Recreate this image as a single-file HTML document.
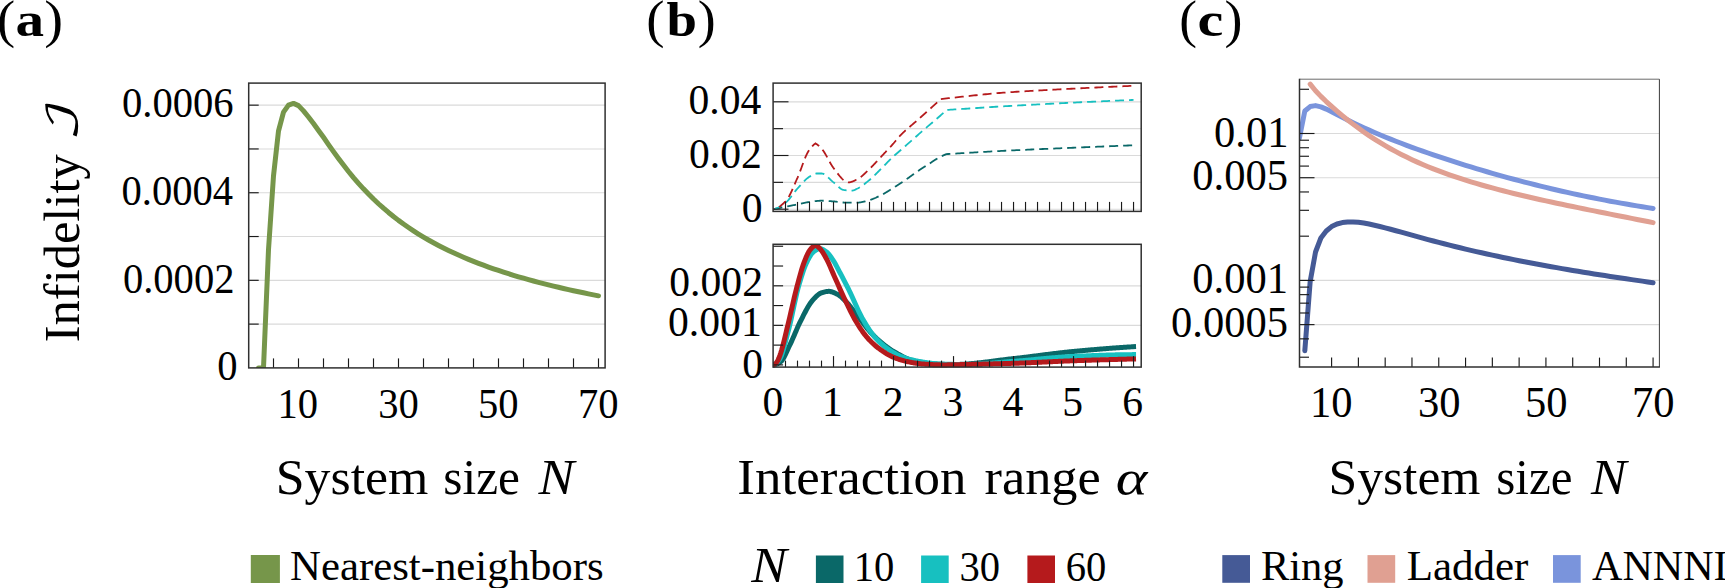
<!DOCTYPE html>
<html><head><meta charset="utf-8"><title>Infidelity figure</title>
<style>
html,body{margin:0;padding:0;background:#fff;}
body{width:1725px;height:588px;overflow:hidden;}
svg{display:block;}
text{font-family:"Liberation Serif","DejaVu Serif",serif;fill:#000;}
</style></head><body>
<svg width="1725" height="588" viewBox="0 0 1725 588">
<defs>
<clipPath id="ca"><rect x="248.7" y="83.1" width="356.40000000000003" height="284.79999999999995"/></clipPath>
<clipPath id="cb"><rect x="773.1" y="244.3" width="368.1" height="123.80000000000001"/></clipPath>
<clipPath id="cc"><rect x="1299.5" y="79.2" width="359.9000000000001" height="287.90000000000003"/></clipPath>
</defs>
<rect width="1725" height="588" fill="#fff"/>
<line x1="248.70" x2="605.10" y1="324.11" y2="324.11" stroke="#dadada" stroke-width="1.15"/>
<line x1="248.70" x2="605.10" y1="280.32" y2="280.32" stroke="#dadada" stroke-width="1.15"/>
<line x1="248.70" x2="605.10" y1="236.53" y2="236.53" stroke="#dadada" stroke-width="1.15"/>
<line x1="248.70" x2="605.10" y1="192.74" y2="192.74" stroke="#dadada" stroke-width="1.15"/>
<line x1="248.70" x2="605.10" y1="148.95" y2="148.95" stroke="#dadada" stroke-width="1.15"/>
<line x1="248.70" x2="605.10" y1="105.16" y2="105.16" stroke="#dadada" stroke-width="1.15"/>
<path d="M258.50,367.90 L263.50,367.90 L268.50,249.67 L273.50,175.88 L278.50,131.00 L283.50,112.17 L288.50,105.16 L293.50,103.41 L298.50,105.60 L303.50,110.85 L308.50,116.98 L313.50,123.51 L318.50,130.41 L323.50,137.32 L328.50,144.55 L333.50,151.61 L338.50,158.49 L343.50,165.11 L348.50,171.47 L353.50,177.54 L358.50,183.33 L363.50,188.83 L368.50,194.05 L373.50,199.02 L378.50,203.74 L383.50,208.21 L388.50,212.47 L393.50,216.52 L398.50,220.37 L403.50,224.04 L408.50,227.53 L413.50,230.86 L418.50,234.05 L423.50,237.09 L428.50,239.99 L433.50,242.78 L438.50,245.44 L443.50,248.00 L448.50,250.45 L453.50,252.81 L458.50,255.07 L463.50,257.25 L468.50,259.35 L473.50,261.38 L478.50,263.33 L483.50,265.21 L488.50,267.03 L493.50,268.79 L498.50,270.49 L503.50,272.13 L508.50,273.72 L513.50,275.27 L518.50,276.77 L523.50,278.22 L528.50,279.63 L533.50,281.00 L538.50,282.33 L543.50,283.62 L548.50,284.88 L553.50,286.10 L558.50,287.30 L563.50,288.46 L568.50,289.59 L573.50,290.70 L578.50,291.77 L583.50,292.82 L588.50,293.85 L593.50,294.85 L598.50,295.83" fill="none" stroke="#76964a" stroke-width="5" stroke-linejoin="round" stroke-linecap="round" clip-path="url(#ca)"/>
<line x1="248.70" x2="258.70" y1="324.11" y2="324.11" stroke="#1a1a1a" stroke-width="1.15"/>
<line x1="248.70" x2="258.70" y1="280.32" y2="280.32" stroke="#1a1a1a" stroke-width="1.15"/>
<line x1="248.70" x2="258.70" y1="236.53" y2="236.53" stroke="#1a1a1a" stroke-width="1.15"/>
<line x1="248.70" x2="258.70" y1="192.74" y2="192.74" stroke="#1a1a1a" stroke-width="1.15"/>
<line x1="248.70" x2="258.70" y1="148.95" y2="148.95" stroke="#1a1a1a" stroke-width="1.15"/>
<line x1="248.70" x2="258.70" y1="105.16" y2="105.16" stroke="#1a1a1a" stroke-width="1.15"/>
<line x1="273.50" x2="273.50" y1="367.90" y2="358.40" stroke="#1a1a1a" stroke-width="1.15"/>
<line x1="298.50" x2="298.50" y1="367.90" y2="358.40" stroke="#1a1a1a" stroke-width="1.15"/>
<line x1="323.50" x2="323.50" y1="367.90" y2="358.40" stroke="#1a1a1a" stroke-width="1.15"/>
<line x1="348.50" x2="348.50" y1="367.90" y2="358.40" stroke="#1a1a1a" stroke-width="1.15"/>
<line x1="373.50" x2="373.50" y1="367.90" y2="358.40" stroke="#1a1a1a" stroke-width="1.15"/>
<line x1="398.50" x2="398.50" y1="367.90" y2="358.40" stroke="#1a1a1a" stroke-width="1.15"/>
<line x1="423.50" x2="423.50" y1="367.90" y2="358.40" stroke="#1a1a1a" stroke-width="1.15"/>
<line x1="448.50" x2="448.50" y1="367.90" y2="358.40" stroke="#1a1a1a" stroke-width="1.15"/>
<line x1="473.50" x2="473.50" y1="367.90" y2="358.40" stroke="#1a1a1a" stroke-width="1.15"/>
<line x1="498.50" x2="498.50" y1="367.90" y2="358.40" stroke="#1a1a1a" stroke-width="1.15"/>
<line x1="523.50" x2="523.50" y1="367.90" y2="358.40" stroke="#1a1a1a" stroke-width="1.15"/>
<line x1="548.50" x2="548.50" y1="367.90" y2="358.40" stroke="#1a1a1a" stroke-width="1.15"/>
<line x1="573.50" x2="573.50" y1="367.90" y2="358.40" stroke="#1a1a1a" stroke-width="1.15"/>
<line x1="598.50" x2="598.50" y1="367.90" y2="358.40" stroke="#1a1a1a" stroke-width="1.15"/>
<rect x="248.7" y="83.1" width="356.40000000000003" height="284.79999999999995" fill="none" stroke="#303030" stroke-width="1.5"/>
<text transform="translate(121.95,117.30) scale(0.944,1)" font-size="43">0.0006</text>
<text transform="translate(121.48,205.00) scale(0.944,1)" font-size="43">0.0004</text>
<text transform="translate(122.90,292.80) scale(0.944,1)" font-size="43">0.0002</text>
<text transform="translate(217.16,380.10) scale(0.944,1)" font-size="43">0</text>
<text transform="translate(277.46,418.20) scale(0.944,1)" font-size="43">10</text>
<text transform="translate(378.29,418.20) scale(0.944,1)" font-size="43">30</text>
<text transform="translate(478.05,418.20) scale(0.944,1)" font-size="43">50</text>
<text transform="translate(577.93,418.20) scale(0.944,1)" font-size="43">70</text>
<line x1="773.10" x2="1141.20" y1="209.20" y2="209.20" stroke="#dadada" stroke-width="1.15"/>
<line x1="773.10" x2="1141.20" y1="182.35" y2="182.35" stroke="#dadada" stroke-width="1.15"/>
<line x1="773.10" x2="1141.20" y1="155.50" y2="155.50" stroke="#dadada" stroke-width="1.15"/>
<line x1="773.10" x2="1141.20" y1="128.65" y2="128.65" stroke="#dadada" stroke-width="1.15"/>
<line x1="773.10" x2="1141.20" y1="101.80" y2="101.80" stroke="#dadada" stroke-width="1.15"/>
<path d="M773.50,209.20 L774.08,209.08 L774.66,208.97 L775.23,208.85 L775.81,208.73 L776.39,208.62 L776.97,208.50 L777.55,208.39 L778.12,208.27 L778.70,208.15 L779.28,208.04 L779.86,207.92 L780.44,207.80 L781.01,207.69 L781.59,207.57 L782.17,207.45 L782.75,207.34 L783.33,207.22 L783.90,207.11 L784.48,206.99 L785.06,206.87 L785.64,206.76 L786.22,206.64 L786.79,206.52 L787.37,206.41 L787.95,206.29 L788.53,206.17 L789.11,206.06 L789.68,205.94 L790.26,205.82 L790.84,205.71 L791.42,205.59 L792.00,205.48 L792.57,205.36 L793.15,205.24 L793.73,205.13 L794.31,205.01 L794.89,204.89 L795.46,204.78 L796.04,204.66 L796.62,204.54 L797.20,204.43 L797.78,204.31 L798.35,204.19 L798.93,204.07 L799.51,203.94 L800.09,203.82 L800.67,203.69 L801.24,203.56 L801.82,203.43 L802.40,203.30 L802.98,203.18 L803.56,203.05 L804.13,202.93 L804.71,202.80 L805.29,202.68 L805.87,202.57 L806.45,202.46 L807.02,202.35 L807.60,202.25 L808.18,202.15 L808.76,202.06 L809.34,201.97 L809.91,201.89 L810.49,201.81 L811.07,201.73 L811.65,201.65 L812.23,201.57 L812.80,201.49 L813.38,201.41 L813.96,201.33 L814.54,201.25 L815.12,201.18 L815.69,201.11 L816.27,201.04 L816.85,200.98 L817.43,200.92 L818.01,200.87 L818.58,200.83 L819.16,200.79 L819.74,200.76 L820.32,200.73 L820.90,200.72 L821.47,200.72 L822.05,200.72 L822.63,200.73 L823.21,200.74 L823.79,200.76 L824.36,200.78 L824.94,200.80 L825.52,200.83 L826.10,200.86 L826.68,200.90 L827.25,200.94 L827.83,200.98 L828.41,201.02 L828.99,201.06 L829.57,201.11 L830.14,201.15 L830.72,201.20 L831.30,201.24 L831.88,201.29 L832.46,201.33 L833.03,201.38 L833.61,201.42 L834.19,201.47 L834.77,201.52 L835.35,201.58 L835.92,201.65 L836.50,201.72 L837.08,201.79 L837.66,201.87 L838.24,201.95 L838.81,202.02 L839.39,202.10 L839.97,202.17 L840.55,202.24 L841.13,202.31 L841.70,202.37 L842.28,202.43 L842.86,202.48 L843.44,202.52 L844.02,202.56 L844.59,202.58 L845.17,202.59 L845.75,202.59 L846.33,202.59 L846.91,202.59 L847.48,202.59 L848.06,202.59 L848.64,202.59 L849.22,202.59 L849.80,202.59 L850.37,202.59 L850.95,202.59 L851.53,202.59 L852.11,202.59 L852.69,202.59 L853.26,202.59 L853.84,202.59 L854.42,202.59 L855.00,202.59 L855.58,202.59 L856.15,202.59 L856.73,202.59 L857.31,202.59 L857.89,202.59 L858.47,202.57 L859.04,202.53 L859.62,202.47 L860.20,202.40 L860.78,202.32 L861.36,202.22 L861.93,202.11 L862.51,201.99 L863.09,201.86 L863.67,201.72 L864.25,201.57 L864.82,201.42 L865.40,201.26 L865.98,201.09 L866.56,200.93 L867.14,200.76 L867.71,200.59 L868.29,200.42 L868.87,200.25 L869.45,200.09 L870.02,199.92 L870.60,199.74 L871.18,199.55 L871.76,199.35 L872.34,199.14 L872.91,198.93 L873.49,198.70 L874.07,198.46 L874.65,198.22 L875.23,197.97 L875.80,197.72 L876.38,197.45 L876.96,197.19 L877.54,196.92 L878.12,196.64 L878.69,196.36 L879.27,196.08 L879.85,195.80 L880.43,195.51 L881.01,195.22 L881.58,194.93 L882.16,194.64 L882.74,194.33 L883.32,194.02 L883.90,193.70 L884.47,193.37 L885.05,193.03 L885.63,192.69 L886.21,192.34 L886.79,191.99 L887.36,191.63 L887.94,191.27 L888.52,190.90 L889.10,190.53 L889.68,190.16 L890.25,189.79 L890.83,189.42 L891.41,189.05 L891.99,188.68 L892.57,188.32 L893.14,187.95 L893.72,187.59 L894.30,187.23 L894.88,186.86 L895.46,186.50 L896.03,186.13 L896.61,185.77 L897.19,185.40 L897.77,185.03 L898.35,184.66 L898.92,184.29 L899.50,183.92 L900.08,183.54 L900.66,183.17 L901.24,182.79 L901.81,182.41 L902.39,182.03 L902.97,181.64 L903.55,181.26 L904.13,180.87 L904.70,180.48 L905.28,180.09 L905.86,179.70 L906.44,179.30 L907.02,178.89 L907.59,178.48 L908.17,178.07 L908.75,177.66 L909.33,177.24 L909.91,176.82 L910.48,176.39 L911.06,175.97 L911.64,175.55 L912.22,175.12 L912.80,174.70 L913.37,174.28 L913.95,173.86 L914.53,173.44 L915.11,173.03 L915.69,172.61 L916.26,172.21 L916.84,171.80 L917.42,171.41 L918.00,171.01 L918.58,170.63 L919.15,170.24 L919.73,169.86 L920.31,169.48 L920.89,169.10 L921.47,168.72 L922.04,168.35 L922.62,167.97 L923.20,167.60 L923.78,167.23 L924.36,166.86 L924.93,166.49 L925.51,166.12 L926.09,165.75 L926.67,165.38 L927.25,165.01 L927.82,164.64 L928.40,164.27 L928.98,163.90 L929.56,163.53 L930.14,163.15 L930.71,162.77 L931.29,162.38 L931.87,161.99 L932.45,161.61 L933.03,161.22 L933.60,160.84 L934.18,160.46 L934.76,160.09 L935.34,159.73 L935.92,159.38 L936.49,159.04 L937.07,158.71 L937.65,158.39 L938.23,158.07 L938.81,157.75 L939.38,157.44 L939.96,157.14 L940.54,156.84 L941.12,156.54 L941.70,156.25 L942.27,155.96 L942.85,155.68 L943.43,155.41 L944.01,155.14 L944.59,154.88 L945.16,154.62 L945.74,154.37 L946.32,154.13 L946.32,154.13 L948.21,154.02 L950.10,153.90 L951.99,153.78 L953.88,153.67 L955.78,153.56 L957.67,153.44 L959.56,153.33 L961.45,153.22 L963.34,153.11 L965.23,152.99 L967.12,152.88 L969.01,152.77 L970.90,152.66 L972.80,152.55 L974.69,152.44 L976.58,152.32 L978.47,152.21 L980.36,152.10 L982.25,151.99 L984.14,151.88 L986.03,151.78 L987.93,151.67 L989.82,151.56 L991.71,151.46 L993.60,151.35 L995.49,151.25 L997.38,151.15 L999.27,151.05 L1001.16,150.96 L1003.05,150.86 L1004.95,150.77 L1006.84,150.68 L1008.73,150.58 L1010.62,150.49 L1012.51,150.40 L1014.40,150.31 L1016.29,150.22 L1018.18,150.13 L1020.07,150.04 L1021.97,149.95 L1023.86,149.87 L1025.75,149.78 L1027.64,149.69 L1029.53,149.61 L1031.42,149.52 L1033.31,149.44 L1035.20,149.36 L1037.09,149.27 L1038.99,149.19 L1040.88,149.11 L1042.77,149.02 L1044.66,148.94 L1046.55,148.86 L1048.44,148.78 L1050.33,148.70 L1052.22,148.62 L1054.11,148.54 L1056.01,148.46 L1057.90,148.38 L1059.79,148.30 L1061.68,148.22 L1063.57,148.14 L1065.46,148.06 L1067.35,147.98 L1069.24,147.90 L1071.13,147.82 L1073.03,147.74 L1074.92,147.65 L1076.81,147.58 L1078.70,147.50 L1080.59,147.42 L1082.48,147.34 L1084.37,147.26 L1086.26,147.18 L1088.15,147.10 L1090.05,147.02 L1091.94,146.95 L1093.83,146.87 L1095.72,146.79 L1097.61,146.71 L1099.50,146.64 L1101.39,146.56 L1103.28,146.48 L1105.18,146.41 L1107.07,146.33 L1108.96,146.26 L1110.85,146.18 L1112.74,146.11 L1114.63,146.03 L1116.52,145.96 L1118.41,145.88 L1120.30,145.81 L1122.20,145.73 L1124.09,145.66 L1125.98,145.59 L1127.87,145.51 L1129.76,145.44 L1131.65,145.37 L1133.54,145.30" fill="none" stroke="#0a6868" stroke-width="1.8" stroke-dasharray="9 5" stroke-dashoffset="0.00"/>
<path d="M773.50,209.20 L774.08,209.06 L774.66,208.90 L775.24,208.72 L775.82,208.52 L776.40,208.29 L776.98,208.05 L777.56,207.78 L778.14,207.50 L778.72,207.20 L779.30,206.88 L779.88,206.55 L780.46,206.20 L781.04,205.85 L781.62,205.47 L782.20,205.09 L782.78,204.70 L783.36,204.30 L783.94,203.89 L784.52,203.47 L785.10,203.05 L785.68,202.62 L786.26,202.15 L786.84,201.63 L787.42,201.06 L788.00,200.45 L788.58,199.80 L789.16,199.12 L789.74,198.42 L790.32,197.69 L790.90,196.94 L791.48,196.17 L792.06,195.40 L792.64,194.63 L793.22,193.85 L793.80,193.07 L794.38,192.31 L794.96,191.56 L795.54,190.82 L796.12,190.11 L796.70,189.42 L797.28,188.77 L797.86,188.14 L798.44,187.50 L799.02,186.86 L799.60,186.21 L800.18,185.56 L800.76,184.91 L801.34,184.26 L801.92,183.62 L802.50,182.98 L803.08,182.35 L803.66,181.73 L804.24,181.13 L804.82,180.55 L805.40,179.98 L805.98,179.43 L806.56,178.91 L807.14,178.41 L807.72,177.95 L808.30,177.51 L808.88,177.11 L809.46,176.74 L810.04,176.39 L810.62,176.03 L811.20,175.67 L811.78,175.31 L812.36,174.97 L812.94,174.65 L813.52,174.35 L814.10,174.09 L814.68,173.87 L815.26,173.69 L815.84,173.56 L816.42,173.50 L817.00,173.49 L817.58,173.49 L818.16,173.49 L818.74,173.49 L819.32,173.49 L819.90,173.49 L820.48,173.49 L821.06,173.49 L821.64,173.49 L822.22,173.55 L822.80,173.68 L823.38,173.89 L823.96,174.15 L824.54,174.48 L825.12,174.85 L825.70,175.27 L826.28,175.73 L826.86,176.23 L827.44,176.75 L828.02,177.29 L828.60,177.85 L829.18,178.41 L829.76,178.98 L830.34,179.55 L830.92,180.11 L831.50,180.66 L832.08,181.18 L832.66,181.68 L833.24,182.15 L833.82,182.59 L834.40,183.05 L834.98,183.55 L835.56,184.07 L836.14,184.60 L836.72,185.14 L837.30,185.69 L837.88,186.23 L838.46,186.76 L839.04,187.27 L839.62,187.76 L840.20,188.22 L840.78,188.64 L841.36,189.01 L841.94,189.34 L842.52,189.61 L843.10,189.81 L843.68,189.94 L844.26,190.04 L844.84,190.12 L845.42,190.20 L846.00,190.28 L846.58,190.35 L847.16,190.42 L847.74,190.48 L848.32,190.53 L848.90,190.58 L849.48,190.61 L850.06,190.64 L850.64,190.66 L851.22,190.67 L851.80,190.67 L852.38,190.60 L852.96,190.48 L853.54,190.31 L854.12,190.10 L854.70,189.86 L855.28,189.60 L855.86,189.32 L856.44,189.04 L857.02,188.76 L857.60,188.48 L858.18,188.20 L858.76,187.90 L859.34,187.58 L859.92,187.23 L860.50,186.87 L861.08,186.50 L861.66,186.11 L862.24,185.70 L862.82,185.28 L863.40,184.85 L863.98,184.41 L864.56,183.96 L865.14,183.51 L865.72,183.04 L866.30,182.57 L866.88,182.10 L867.46,181.62 L868.04,181.15 L868.62,180.67 L869.20,180.19 L869.78,179.71 L870.36,179.22 L870.94,178.72 L871.52,178.20 L872.10,177.68 L872.68,177.14 L873.26,176.59 L873.84,176.04 L874.42,175.48 L875.00,174.91 L875.58,174.34 L876.16,173.76 L876.74,173.18 L877.32,172.59 L877.90,172.01 L878.48,171.42 L879.06,170.84 L879.64,170.25 L880.22,169.67 L880.80,169.09 L881.38,168.52 L881.96,167.95 L882.54,167.37 L883.12,166.78 L883.70,166.19 L884.28,165.60 L884.86,165.00 L885.44,164.40 L886.02,163.80 L886.60,163.20 L887.18,162.59 L887.76,161.99 L888.34,161.40 L888.92,160.80 L889.50,160.21 L890.08,159.62 L890.66,159.04 L891.24,158.47 L891.82,157.91 L892.40,157.35 L892.98,156.80 L893.56,156.26 L894.14,155.74 L894.72,155.22 L895.30,154.72 L895.88,154.22 L896.46,153.73 L897.04,153.24 L897.62,152.76 L898.20,152.27 L898.78,151.79 L899.36,151.29 L899.94,150.79 L900.52,150.29 L901.10,149.79 L901.68,149.28 L902.26,148.77 L902.84,148.27 L903.42,147.76 L904.00,147.25 L904.58,146.74 L905.16,146.23 L905.74,145.72 L906.32,145.20 L906.90,144.69 L907.48,144.18 L908.06,143.66 L908.64,143.15 L909.22,142.64 L909.80,142.12 L910.38,141.61 L910.96,141.09 L911.54,140.58 L912.12,140.07 L912.70,139.55 L913.28,139.04 L913.86,138.52 L914.44,138.01 L915.02,137.50 L915.60,136.99 L916.18,136.48 L916.76,135.96 L917.34,135.45 L917.92,134.95 L918.50,134.44 L919.08,133.93 L919.66,133.42 L920.24,132.92 L920.82,132.41 L921.40,131.91 L921.98,131.41 L922.56,130.91 L923.14,130.41 L923.72,129.91 L924.30,129.41 L924.88,128.91 L925.46,128.41 L926.04,127.92 L926.62,127.42 L927.20,126.92 L927.78,126.43 L928.36,125.93 L928.94,125.43 L929.52,124.94 L930.10,124.44 L930.68,123.94 L931.26,123.45 L931.84,122.95 L932.42,122.45 L933.00,121.96 L933.58,121.46 L934.16,120.96 L934.74,120.46 L935.32,119.96 L935.90,119.46 L936.48,118.96 L937.06,118.46 L937.64,117.96 L938.22,117.46 L938.80,116.95 L939.38,116.45 L939.96,115.95 L940.54,115.45 L941.12,114.94 L941.70,114.44 L942.28,113.94 L942.86,113.44 L943.44,112.93 L944.02,112.43 L944.60,111.93 L945.18,111.42 L945.76,110.92 L946.34,110.41 L946.92,109.91 L946.92,109.91 L948.81,109.79 L950.69,109.67 L952.58,109.56 L954.46,109.44 L956.35,109.32 L958.23,109.20 L960.12,109.08 L962.00,108.97 L963.89,108.85 L965.77,108.73 L967.66,108.61 L969.54,108.48 L971.43,108.36 L973.31,108.24 L975.20,108.11 L977.08,107.99 L978.97,107.87 L980.85,107.74 L982.74,107.62 L984.62,107.49 L986.51,107.37 L988.39,107.25 L990.28,107.13 L992.16,107.01 L994.05,106.89 L995.93,106.77 L997.82,106.66 L999.70,106.54 L1001.59,106.43 L1003.47,106.32 L1005.36,106.21 L1007.24,106.10 L1009.13,106.00 L1011.01,105.89 L1012.90,105.78 L1014.78,105.67 L1016.67,105.57 L1018.55,105.46 L1020.44,105.36 L1022.32,105.25 L1024.21,105.15 L1026.09,105.05 L1027.98,104.94 L1029.86,104.84 L1031.75,104.74 L1033.63,104.64 L1035.52,104.54 L1037.40,104.44 L1039.29,104.34 L1041.17,104.24 L1043.06,104.14 L1044.94,104.04 L1046.83,103.94 L1048.71,103.85 L1050.60,103.75 L1052.48,103.65 L1054.37,103.56 L1056.25,103.46 L1058.14,103.37 L1060.02,103.27 L1061.91,103.18 L1063.79,103.08 L1065.68,102.99 L1067.56,102.90 L1069.45,102.80 L1071.33,102.71 L1073.22,102.62 L1075.10,102.53 L1076.99,102.44 L1078.88,102.35 L1080.76,102.26 L1082.65,102.17 L1084.53,102.08 L1086.42,101.99 L1088.30,101.90 L1090.19,101.81 L1092.07,101.73 L1093.96,101.64 L1095.84,101.55 L1097.73,101.47 L1099.61,101.38 L1101.50,101.30 L1103.38,101.21 L1105.27,101.13 L1107.15,101.04 L1109.04,100.96 L1110.92,100.88 L1112.81,100.80 L1114.69,100.71 L1116.58,100.63 L1118.46,100.55 L1120.35,100.47 L1122.23,100.39 L1124.12,100.31 L1126.00,100.23 L1127.89,100.15 L1129.77,100.08 L1131.66,100.00 L1133.54,99.92" fill="none" stroke="#17c0c0" stroke-width="1.8" stroke-dasharray="9 5" stroke-dashoffset="0.00"/>
<path d="M773.50,209.20 L774.21,209.16 L774.92,209.04 L775.64,208.85 L776.35,208.60 L777.06,208.28 L777.77,207.90 L778.48,207.47 L779.20,206.99 L779.91,206.47 L780.62,205.91 L781.33,205.31 L782.04,204.69 L782.76,204.04 L783.47,203.38 L784.18,202.70 L784.89,202.01 L785.60,201.31 L786.32,200.52 L787.03,199.60 L787.74,198.55 L788.45,197.39 L789.16,196.13 L789.87,194.77 L790.59,193.34 L791.30,191.85 L792.01,190.30 L792.72,188.70 L793.43,187.08 L794.15,185.44 L794.86,183.78 L795.57,182.14 L796.28,180.51 L796.99,178.91 L797.71,177.34 L798.42,175.68 L799.13,173.92 L799.84,172.08 L800.55,170.17 L801.27,168.22 L801.98,166.25 L802.69,164.29 L803.40,162.35 L804.11,160.46 L804.83,158.64 L805.54,156.91 L806.25,155.29 L806.96,153.81 L807.67,152.49 L808.39,151.35 L809.10,150.31 L809.81,149.30 L810.52,148.34 L811.23,147.43 L811.95,146.58 L812.66,145.80 L813.37,145.08 L814.08,144.44 L814.79,143.89 L815.50,143.42 L815.50,143.42 L815.92,143.67 L816.34,143.95 L816.76,144.24 L817.18,144.54 L817.60,144.86 L818.02,145.20 L818.44,145.55 L818.86,145.91 L819.28,146.29 L819.70,146.68 L820.11,147.09 L820.53,147.50 L820.95,147.93 L821.37,148.38 L821.79,148.84 L822.21,149.33 L822.63,149.87 L823.05,150.44 L823.47,151.04 L823.89,151.66 L824.30,152.32 L824.72,152.99 L825.14,153.69 L825.56,154.41 L825.98,155.14 L826.40,155.89 L826.82,156.64 L827.24,157.40 L827.66,158.17 L828.08,158.94 L828.50,159.71 L828.91,160.48 L829.33,161.24 L829.75,162.00 L830.17,162.74 L830.59,163.47 L831.01,164.19 L831.43,164.89 L831.85,165.56 L832.27,166.22 L832.69,166.84 L833.10,167.44 L833.52,168.01 L833.94,168.56 L834.36,169.12 L834.78,169.68 L835.20,170.25 L835.62,170.81 L836.04,171.38 L836.46,171.94 L836.88,172.50 L837.30,173.06 L837.71,173.61 L838.13,174.15 L838.55,174.68 L838.97,175.21 L839.39,175.73 L839.81,176.23 L840.23,176.72 L840.65,177.20 L841.07,177.66 L841.49,178.10 L841.90,178.53 L842.32,178.94 L842.74,179.33 L843.16,179.69 L843.58,180.03 L844.00,180.35 L844.42,180.64 L844.84,180.91 L845.26,181.15 L845.68,181.36 L846.10,181.57 L846.51,181.78 L846.93,181.97 L847.35,182.13 L847.77,182.25 L848.19,182.33 L848.61,182.35 L849.03,182.33 L849.45,182.30 L849.87,182.24 L850.29,182.16 L850.70,182.07 L851.12,181.96 L851.54,181.83 L851.96,181.69 L852.38,181.54 L852.80,181.38 L853.22,181.21 L853.64,181.02 L854.06,180.83 L854.48,180.64 L854.90,180.44 L855.31,180.23 L855.73,180.02 L856.15,179.81 L856.57,179.60 L856.99,179.39 L857.41,179.18 L857.83,178.97 L858.25,178.74 L858.67,178.49 L859.09,178.23 L859.50,177.95 L859.92,177.66 L860.34,177.35 L860.76,177.04 L861.18,176.71 L861.60,176.37 L862.02,176.02 L862.44,175.65 L862.86,175.29 L863.28,174.91 L863.70,174.53 L864.11,174.14 L864.53,173.74 L864.95,173.34 L865.37,172.94 L865.79,172.53 L866.21,172.12 L866.63,171.71 L867.05,171.30 L867.47,170.89 L867.89,170.48 L868.30,170.08 L868.72,169.67 L869.14,169.27 L869.56,168.88 L869.98,168.48 L870.40,168.08 L870.82,167.67 L871.24,167.25 L871.66,166.83 L872.08,166.41 L872.50,165.98 L872.91,165.55 L873.33,165.11 L873.75,164.67 L874.17,164.23 L874.59,163.79 L875.01,163.34 L875.43,162.89 L875.85,162.44 L876.27,161.98 L876.69,161.53 L877.10,161.07 L877.52,160.62 L877.94,160.16 L878.36,159.71 L878.78,159.25 L879.20,158.79 L879.62,158.34 L880.04,157.89 L880.46,157.43 L880.88,156.98 L881.30,156.54 L881.71,156.09 L882.13,155.65 L882.55,155.20 L882.97,154.76 L883.39,154.32 L883.81,153.88 L884.23,153.43 L884.65,152.99 L885.07,152.55 L885.49,152.11 L885.90,151.66 L886.32,151.22 L886.74,150.78 L887.16,150.33 L887.58,149.89 L888.00,149.44 L888.42,148.99 L888.84,148.55 L889.26,148.10 L889.68,147.64 L890.10,147.19 L890.51,146.74 L890.93,146.28 L891.35,145.82 L891.77,145.36 L892.19,144.90 L892.61,144.43 L893.03,143.96 L893.45,143.49 L893.87,143.02 L894.29,142.53 L894.70,142.03 L895.12,141.53 L895.54,141.02 L895.96,140.51 L896.38,139.99 L896.80,139.48 L897.22,138.97 L897.64,138.46 L898.06,137.96 L898.48,137.47 L898.89,136.99 L899.31,136.52 L899.73,136.07 L900.15,135.63 L900.57,135.20 L900.99,134.77 L901.41,134.35 L901.83,133.94 L902.25,133.53 L902.67,133.12 L903.09,132.72 L903.50,132.32 L903.92,131.93 L904.34,131.54 L904.76,131.15 L905.18,130.77 L905.60,130.39 L906.02,130.01 L906.44,129.64 L906.86,129.27 L907.28,128.90 L907.69,128.53 L908.11,128.17 L908.53,127.80 L908.95,127.44 L909.37,127.08 L909.79,126.72 L910.21,126.36 L910.63,126.01 L911.05,125.65 L911.47,125.29 L911.89,124.94 L912.30,124.58 L912.72,124.22 L913.14,123.87 L913.56,123.51 L913.98,123.15 L914.40,122.79 L914.82,122.43 L915.24,122.07 L915.66,121.70 L916.08,121.33 L916.49,120.97 L916.91,120.60 L917.33,120.22 L917.75,119.85 L918.17,119.47 L918.59,119.10 L919.01,118.72 L919.43,118.35 L919.85,117.97 L920.27,117.60 L920.69,117.22 L921.10,116.85 L921.52,116.47 L921.94,116.10 L922.36,115.73 L922.78,115.35 L923.20,114.98 L923.62,114.60 L924.04,114.23 L924.46,113.85 L924.88,113.48 L925.29,113.10 L925.71,112.73 L926.13,112.35 L926.55,111.98 L926.97,111.60 L927.39,111.23 L927.81,110.85 L928.23,110.48 L928.65,110.10 L929.07,109.72 L929.49,109.35 L929.90,108.97 L930.32,108.59 L930.74,108.22 L931.16,107.84 L931.58,107.46 L932.00,107.08 L932.42,106.70 L932.84,106.33 L933.26,105.95 L933.68,105.57 L934.09,105.19 L934.51,104.81 L934.93,104.43 L935.35,104.06 L935.77,103.68 L936.19,103.30 L936.61,102.92 L937.03,102.54 L937.45,102.16 L937.87,101.78 L938.29,101.40 L938.70,101.02 L939.12,100.64 L939.54,100.26 L939.96,99.88 L940.38,99.50 L940.80,99.11 L940.80,99.11 L942.75,98.89 L944.69,98.67 L946.64,98.44 L948.59,98.22 L950.53,98.00 L952.48,97.78 L954.43,97.57 L956.37,97.35 L958.32,97.14 L960.27,96.93 L962.22,96.72 L964.16,96.51 L966.11,96.30 L968.06,96.10 L970.00,95.89 L971.95,95.68 L973.90,95.47 L975.84,95.26 L977.79,95.05 L979.74,94.84 L981.68,94.64 L983.63,94.44 L985.58,94.24 L987.52,94.04 L989.47,93.85 L991.42,93.67 L993.37,93.49 L995.31,93.32 L997.26,93.16 L999.21,93.00 L1001.15,92.85 L1003.10,92.71 L1005.05,92.57 L1006.99,92.43 L1008.94,92.29 L1010.89,92.16 L1012.83,92.03 L1014.78,91.90 L1016.73,91.77 L1018.68,91.65 L1020.62,91.52 L1022.57,91.40 L1024.52,91.28 L1026.46,91.17 L1028.41,91.05 L1030.36,90.94 L1032.30,90.83 L1034.25,90.72 L1036.20,90.61 L1038.14,90.50 L1040.09,90.39 L1042.04,90.28 L1043.98,90.18 L1045.93,90.08 L1047.88,89.97 L1049.83,89.87 L1051.77,89.77 L1053.72,89.67 L1055.67,89.57 L1057.61,89.47 L1059.56,89.37 L1061.51,89.26 L1063.45,89.16 L1065.40,89.06 L1067.35,88.96 L1069.29,88.86 L1071.24,88.76 L1073.19,88.66 L1075.14,88.56 L1077.08,88.46 L1079.03,88.36 L1080.98,88.26 L1082.92,88.16 L1084.87,88.06 L1086.82,87.96 L1088.76,87.87 L1090.71,87.77 L1092.66,87.67 L1094.60,87.58 L1096.55,87.48 L1098.50,87.39 L1100.44,87.30 L1102.39,87.20 L1104.34,87.11 L1106.29,87.02 L1108.23,86.93 L1110.18,86.84 L1112.13,86.75 L1114.07,86.66 L1116.02,86.57 L1117.97,86.48 L1119.91,86.39 L1121.86,86.31 L1123.81,86.22 L1125.75,86.13 L1127.70,86.05 L1129.65,85.96 L1131.60,85.88 L1133.54,85.80" fill="none" stroke="#b51a1c" stroke-width="1.8" stroke-dasharray="9 5" stroke-dashoffset="7.90"/>
<line x1="773.10" x2="788.50" y1="209.20" y2="209.20" stroke="#1a1a1a" stroke-width="1.15"/>
<line x1="773.10" x2="783.00" y1="182.35" y2="182.35" stroke="#1a1a1a" stroke-width="1.15"/>
<line x1="773.10" x2="788.50" y1="155.50" y2="155.50" stroke="#1a1a1a" stroke-width="1.15"/>
<line x1="773.10" x2="783.00" y1="128.65" y2="128.65" stroke="#1a1a1a" stroke-width="1.15"/>
<line x1="773.10" x2="788.50" y1="101.80" y2="101.80" stroke="#1a1a1a" stroke-width="1.15"/>
<line x1="785.50" x2="785.50" y1="211.40" y2="201.90" stroke="#1a1a1a" stroke-width="1.15"/>
<line x1="797.50" x2="797.50" y1="211.40" y2="201.90" stroke="#1a1a1a" stroke-width="1.15"/>
<line x1="809.50" x2="809.50" y1="211.40" y2="201.90" stroke="#1a1a1a" stroke-width="1.15"/>
<line x1="821.51" x2="821.51" y1="211.40" y2="201.90" stroke="#1a1a1a" stroke-width="1.15"/>
<line x1="833.51" x2="833.51" y1="211.40" y2="201.90" stroke="#1a1a1a" stroke-width="1.15"/>
<line x1="845.51" x2="845.51" y1="211.40" y2="201.90" stroke="#1a1a1a" stroke-width="1.15"/>
<line x1="857.51" x2="857.51" y1="211.40" y2="201.90" stroke="#1a1a1a" stroke-width="1.15"/>
<line x1="869.51" x2="869.51" y1="211.40" y2="201.90" stroke="#1a1a1a" stroke-width="1.15"/>
<line x1="881.51" x2="881.51" y1="211.40" y2="201.90" stroke="#1a1a1a" stroke-width="1.15"/>
<line x1="893.51" x2="893.51" y1="211.40" y2="201.90" stroke="#1a1a1a" stroke-width="1.15"/>
<line x1="905.52" x2="905.52" y1="211.40" y2="201.90" stroke="#1a1a1a" stroke-width="1.15"/>
<line x1="917.52" x2="917.52" y1="211.40" y2="201.90" stroke="#1a1a1a" stroke-width="1.15"/>
<line x1="929.52" x2="929.52" y1="211.40" y2="201.90" stroke="#1a1a1a" stroke-width="1.15"/>
<line x1="941.52" x2="941.52" y1="211.40" y2="201.90" stroke="#1a1a1a" stroke-width="1.15"/>
<line x1="953.52" x2="953.52" y1="211.40" y2="201.90" stroke="#1a1a1a" stroke-width="1.15"/>
<line x1="965.52" x2="965.52" y1="211.40" y2="201.90" stroke="#1a1a1a" stroke-width="1.15"/>
<line x1="977.52" x2="977.52" y1="211.40" y2="201.90" stroke="#1a1a1a" stroke-width="1.15"/>
<line x1="989.53" x2="989.53" y1="211.40" y2="201.90" stroke="#1a1a1a" stroke-width="1.15"/>
<line x1="1001.53" x2="1001.53" y1="211.40" y2="201.90" stroke="#1a1a1a" stroke-width="1.15"/>
<line x1="1013.53" x2="1013.53" y1="211.40" y2="201.90" stroke="#1a1a1a" stroke-width="1.15"/>
<line x1="1025.53" x2="1025.53" y1="211.40" y2="201.90" stroke="#1a1a1a" stroke-width="1.15"/>
<line x1="1037.53" x2="1037.53" y1="211.40" y2="201.90" stroke="#1a1a1a" stroke-width="1.15"/>
<line x1="1049.53" x2="1049.53" y1="211.40" y2="201.90" stroke="#1a1a1a" stroke-width="1.15"/>
<line x1="1061.53" x2="1061.53" y1="211.40" y2="201.90" stroke="#1a1a1a" stroke-width="1.15"/>
<line x1="1073.53" x2="1073.53" y1="211.40" y2="201.90" stroke="#1a1a1a" stroke-width="1.15"/>
<line x1="1085.54" x2="1085.54" y1="211.40" y2="201.90" stroke="#1a1a1a" stroke-width="1.15"/>
<line x1="1097.54" x2="1097.54" y1="211.40" y2="201.90" stroke="#1a1a1a" stroke-width="1.15"/>
<line x1="1109.54" x2="1109.54" y1="211.40" y2="201.90" stroke="#1a1a1a" stroke-width="1.15"/>
<line x1="1121.54" x2="1121.54" y1="211.40" y2="201.90" stroke="#1a1a1a" stroke-width="1.15"/>
<line x1="1133.54" x2="1133.54" y1="211.40" y2="201.90" stroke="#1a1a1a" stroke-width="1.15"/>
<rect x="773.1" y="83.1" width="368.1" height="128.3" fill="none" stroke="#303030" stroke-width="1.5"/>
<text transform="translate(688.48,114.20) scale(0.968,1)" font-size="43">0.04</text>
<text transform="translate(688.94,168.20) scale(0.968,1)" font-size="43">0.02</text>
<text transform="translate(741.68,221.80) scale(0.968,1)" font-size="43">0</text>
<line x1="773.10" x2="1141.20" y1="325.35" y2="325.35" stroke="#dadada" stroke-width="1.15"/>
<line x1="773.10" x2="1141.20" y1="285.80" y2="285.80" stroke="#dadada" stroke-width="1.15"/>
<path d="M773.50,364.90 L774.40,364.83 L775.30,364.64 L776.21,364.34 L777.11,363.94 L778.01,363.46 L778.91,362.93 L779.82,362.34 L780.72,361.72 L781.62,360.90 L782.52,359.75 L783.43,358.33 L784.33,356.68 L785.23,354.86 L786.13,352.94 L787.04,350.96 L787.94,348.98 L788.84,347.06 L789.74,345.23 L790.64,343.35 L791.55,341.39 L792.45,339.36 L793.35,337.29 L794.25,335.19 L795.16,333.07 L796.06,330.96 L796.96,328.87 L797.86,326.82 L798.77,324.82 L799.67,322.90 L800.57,321.06 L801.47,319.29 L802.38,317.52 L803.28,315.74 L804.18,313.97 L805.08,312.23 L805.98,310.53 L806.89,308.87 L807.79,307.28 L808.69,305.77 L809.59,304.34 L810.50,303.01 L811.40,301.80 L812.30,300.72 L813.20,299.69 L814.11,298.69 L815.01,297.71 L815.91,296.78 L816.81,295.91 L817.72,295.11 L818.62,294.40 L819.52,293.79 L820.42,293.29 L821.33,292.92 L822.23,292.62 L823.13,292.33 L824.03,292.07 L824.93,291.84 L825.84,291.64 L826.74,291.48 L827.64,291.38 L828.54,291.34 L829.45,291.37 L830.35,291.49 L831.25,291.69 L832.15,291.96 L833.06,292.28 L833.96,292.65 L834.86,293.05 L835.76,293.47 L836.67,293.90 L837.57,294.34 L838.47,294.87 L839.37,295.49 L840.27,296.18 L841.18,296.95 L842.08,297.77 L842.98,298.63 L843.88,299.52 L844.79,300.43 L845.69,301.35 L846.59,302.26 L847.49,303.22 L848.40,304.23 L849.30,305.30 L850.20,306.40 L851.10,307.54 L852.01,308.70 L852.91,309.88 L853.81,311.06 L854.71,312.25 L855.61,313.43 L856.52,314.60 L857.42,315.75 L858.32,316.88 L859.22,318.04 L860.13,319.21 L861.03,320.39 L861.93,321.57 L862.83,322.76 L863.74,323.95 L864.64,325.12 L865.54,326.28 L866.44,327.43 L867.35,328.55 L868.25,329.65 L869.15,330.71 L870.05,331.74 L870.95,332.73 L871.86,333.69 L872.76,334.64 L873.66,335.55 L874.56,336.45 L875.47,337.33 L876.37,338.19 L877.27,339.02 L878.17,339.83 L879.08,340.62 L879.98,341.40 L880.88,342.16 L881.78,342.91 L882.69,343.66 L883.59,344.39 L884.49,345.11 L885.39,345.83 L886.30,346.52 L887.20,347.21 L888.10,347.87 L889.00,348.52 L889.90,349.15 L890.81,349.76 L891.71,350.35 L892.61,350.91 L893.51,351.45 L894.42,351.98 L895.32,352.51 L896.22,353.03 L897.12,353.54 L898.03,354.06 L898.93,354.56 L899.83,355.05 L900.73,355.54 L901.64,356.01 L902.54,356.48 L903.44,356.93 L904.34,357.37 L905.24,357.79 L906.15,358.19 L907.05,358.58 L907.95,358.95 L908.85,359.30 L909.76,359.63 L910.66,359.94 L911.56,360.22 L912.46,360.48 L913.37,360.72 L914.27,360.96 L915.17,361.19 L916.07,361.42 L916.98,361.64 L917.88,361.86 L918.78,362.07 L919.68,362.27 L920.58,362.46 L921.49,362.64 L922.39,362.81 L923.29,362.98 L924.19,363.12 L925.10,363.26 L926.00,363.38 L926.90,363.49 L927.80,363.58 L928.71,363.66 L929.61,363.72 L930.51,363.77 L931.41,363.82 L932.32,363.87 L933.22,363.92 L934.12,363.97 L935.02,364.01 L935.92,364.05 L936.83,364.10 L937.73,364.14 L938.63,364.17 L939.53,364.21 L940.44,364.25 L941.34,364.28 L942.24,364.31 L943.14,364.34 L944.05,364.36 L944.95,364.39 L945.85,364.41 L946.75,364.43 L947.66,364.45 L948.56,364.46 L949.46,364.48 L950.36,364.49 L951.27,364.50 L952.17,364.50 L953.07,364.50 L953.97,364.50 L954.87,364.50 L955.78,364.49 L956.68,364.47 L957.58,364.45 L958.48,364.43 L959.39,364.40 L960.29,364.37 L961.19,364.33 L962.09,364.29 L963.00,364.24 L963.90,364.19 L964.80,364.14 L965.70,364.08 L966.61,364.02 L967.51,363.96 L968.41,363.89 L969.31,363.82 L970.21,363.74 L971.12,363.67 L972.02,363.59 L972.92,363.50 L973.82,363.42 L974.73,363.33 L975.63,363.24 L976.53,363.14 L977.43,363.05 L978.34,362.95 L979.24,362.85 L980.14,362.75 L981.04,362.64 L981.95,362.54 L982.85,362.43 L983.75,362.32 L984.65,362.21 L985.55,362.10 L986.46,361.98 L987.36,361.87 L988.26,361.75 L989.16,361.64 L990.07,361.52 L990.97,361.40 L991.87,361.29 L992.77,361.17 L993.68,361.05 L994.58,360.93 L995.48,360.81 L996.38,360.69 L997.29,360.57 L998.19,360.45 L999.09,360.33 L999.99,360.22 L1000.89,360.10 L1001.80,359.98 L1002.70,359.87 L1003.60,359.75 L1004.50,359.64 L1005.41,359.52 L1006.31,359.41 L1007.21,359.30 L1008.11,359.19 L1009.02,359.08 L1009.92,358.98 L1010.82,358.87 L1011.72,358.77 L1012.63,358.67 L1013.53,358.57 L1014.43,358.47 L1015.33,358.37 L1016.24,358.27 L1017.14,358.17 L1018.04,358.07 L1018.94,357.97 L1019.84,357.86 L1020.75,357.76 L1021.65,357.65 L1022.55,357.54 L1023.45,357.44 L1024.36,357.33 L1025.26,357.22 L1026.16,357.11 L1027.06,357.00 L1027.97,356.89 L1028.87,356.77 L1029.77,356.66 L1030.67,356.55 L1031.58,356.44 L1032.48,356.32 L1033.38,356.21 L1034.28,356.09 L1035.18,355.98 L1036.09,355.86 L1036.99,355.75 L1037.89,355.63 L1038.79,355.52 L1039.70,355.40 L1040.60,355.29 L1041.50,355.17 L1042.40,355.06 L1043.31,354.94 L1044.21,354.83 L1045.11,354.71 L1046.01,354.60 L1046.92,354.49 L1047.82,354.37 L1048.72,354.26 L1049.62,354.15 L1050.52,354.03 L1051.43,353.92 L1052.33,353.81 L1053.23,353.70 L1054.13,353.59 L1055.04,353.48 L1055.94,353.37 L1056.84,353.26 L1057.74,353.16 L1058.65,353.05 L1059.55,352.94 L1060.45,352.84 L1061.35,352.74 L1062.26,352.63 L1063.16,352.53 L1064.06,352.43 L1064.96,352.33 L1065.86,352.23 L1066.77,352.14 L1067.67,352.04 L1068.57,351.95 L1069.47,351.85 L1070.38,351.76 L1071.28,351.67 L1072.18,351.58 L1073.08,351.50 L1073.99,351.41 L1074.89,351.32 L1075.79,351.24 L1076.69,351.16 L1077.60,351.07 L1078.50,350.99 L1079.40,350.90 L1080.30,350.82 L1081.21,350.74 L1082.11,350.65 L1083.01,350.57 L1083.91,350.49 L1084.81,350.41 L1085.72,350.33 L1086.62,350.25 L1087.52,350.17 L1088.42,350.09 L1089.33,350.01 L1090.23,349.93 L1091.13,349.85 L1092.03,349.77 L1092.94,349.69 L1093.84,349.62 L1094.74,349.54 L1095.64,349.46 L1096.55,349.39 L1097.45,349.31 L1098.35,349.24 L1099.25,349.16 L1100.15,349.09 L1101.06,349.01 L1101.96,348.94 L1102.86,348.87 L1103.76,348.79 L1104.67,348.72 L1105.57,348.65 L1106.47,348.58 L1107.37,348.51 L1108.28,348.44 L1109.18,348.37 L1110.08,348.30 L1110.98,348.23 L1111.89,348.17 L1112.79,348.10 L1113.69,348.03 L1114.59,347.97 L1115.49,347.90 L1116.40,347.83 L1117.30,347.77 L1118.20,347.71 L1119.10,347.64 L1120.01,347.58 L1120.91,347.52 L1121.81,347.46 L1122.71,347.39 L1123.62,347.33 L1124.52,347.27 L1125.42,347.21 L1126.32,347.16 L1127.23,347.10 L1128.13,347.04 L1129.03,346.98 L1129.93,346.93 L1130.83,346.87 L1131.74,346.82 L1132.64,346.76 L1133.54,346.71" fill="none" stroke="#0a6868" stroke-width="5" stroke-linejoin="round" stroke-linecap="square" clip-path="url(#cb)"/>
<path d="M773.50,364.90 L774.40,364.72 L775.30,364.22 L776.21,363.47 L777.11,362.50 L778.01,361.38 L778.91,360.17 L779.82,358.89 L780.72,357.17 L781.62,354.95 L782.52,352.33 L783.43,349.37 L784.33,346.15 L785.23,342.75 L786.13,339.24 L787.04,335.71 L787.94,332.22 L788.84,328.82 L789.74,325.20 L790.64,321.33 L791.55,317.27 L792.45,313.08 L793.35,308.84 L794.25,304.59 L795.16,300.40 L796.06,296.35 L796.96,292.48 L797.86,288.87 L798.77,285.58 L799.67,282.47 L800.57,279.43 L801.47,276.48 L802.38,273.65 L803.28,270.96 L804.18,268.44 L805.08,266.10 L805.98,263.98 L806.89,262.07 L807.79,260.24 L808.69,258.49 L809.59,256.84 L810.50,255.35 L811.40,254.03 L812.30,252.94 L813.20,252.10 L814.11,251.38 L815.01,250.69 L815.91,250.05 L816.81,249.50 L817.72,249.06 L818.62,248.76 L819.52,248.63 L820.42,248.68 L821.33,248.89 L822.23,249.24 L823.13,249.70 L824.03,250.24 L824.93,250.84 L825.84,251.46 L826.74,252.11 L827.64,252.92 L828.54,253.89 L829.45,255.00 L830.35,256.22 L831.25,257.51 L832.15,258.85 L833.06,260.21 L833.96,261.58 L834.86,263.07 L835.76,264.66 L836.67,266.34 L837.57,268.06 L838.47,269.80 L839.37,271.53 L840.27,273.23 L841.18,274.93 L842.08,276.63 L842.98,278.35 L843.88,280.08 L844.79,281.82 L845.69,283.58 L846.59,285.35 L847.49,287.13 L848.40,288.93 L849.30,290.75 L850.20,292.62 L851.10,294.54 L852.01,296.51 L852.91,298.50 L853.81,300.50 L854.71,302.52 L855.61,304.53 L856.52,306.53 L857.42,308.51 L858.32,310.45 L859.22,312.34 L860.13,314.19 L861.03,315.96 L861.93,317.67 L862.83,319.28 L863.74,320.84 L864.64,322.37 L865.54,323.87 L866.44,325.35 L867.35,326.79 L868.25,328.20 L869.15,329.57 L870.05,330.89 L870.95,332.18 L871.86,333.42 L872.76,334.60 L873.66,335.74 L874.56,336.82 L875.47,337.84 L876.37,338.83 L877.27,339.80 L878.17,340.73 L879.08,341.64 L879.98,342.51 L880.88,343.36 L881.78,344.17 L882.69,344.96 L883.59,345.73 L884.49,346.46 L885.39,347.16 L886.30,347.84 L887.20,348.49 L888.10,349.13 L889.00,349.76 L889.90,350.37 L890.81,350.98 L891.71,351.56 L892.61,352.14 L893.51,352.69 L894.42,353.23 L895.32,353.75 L896.22,354.25 L897.12,354.72 L898.03,355.17 L898.93,355.60 L899.83,356.00 L900.73,356.37 L901.64,356.71 L902.54,357.04 L903.44,357.36 L904.34,357.67 L905.24,357.98 L906.15,358.27 L907.05,358.55 L907.95,358.82 L908.85,359.09 L909.76,359.34 L910.66,359.58 L911.56,359.82 L912.46,360.04 L913.37,360.26 L914.27,360.46 L915.17,360.66 L916.07,360.85 L916.98,361.03 L917.88,361.19 L918.78,361.35 L919.68,361.51 L920.58,361.66 L921.49,361.81 L922.39,361.96 L923.29,362.11 L924.19,362.25 L925.10,362.40 L926.00,362.54 L926.90,362.67 L927.80,362.81 L928.71,362.93 L929.61,363.06 L930.51,363.18 L931.41,363.29 L932.32,363.40 L933.22,363.50 L934.12,363.60 L935.02,363.69 L935.92,363.77 L936.83,363.85 L937.73,363.92 L938.63,363.98 L939.53,364.03 L940.44,364.07 L941.34,364.10 L942.24,364.13 L943.14,364.16 L944.05,364.18 L944.95,364.21 L945.85,364.23 L946.75,364.25 L947.66,364.28 L948.56,364.30 L949.46,364.32 L950.36,364.34 L951.27,364.36 L952.17,364.37 L953.07,364.39 L953.97,364.41 L954.87,364.42 L955.78,364.44 L956.68,364.45 L957.58,364.46 L958.48,364.47 L959.39,364.48 L960.29,364.49 L961.19,364.49 L962.09,364.50 L963.00,364.50 L963.90,364.50 L964.80,364.50 L965.70,364.50 L966.61,364.50 L967.51,364.49 L968.41,364.47 L969.31,364.46 L970.21,364.44 L971.12,364.41 L972.02,364.39 L972.92,364.36 L973.82,364.32 L974.73,364.28 L975.63,364.24 L976.53,364.20 L977.43,364.16 L978.34,364.11 L979.24,364.06 L980.14,364.01 L981.04,363.95 L981.95,363.89 L982.85,363.83 L983.75,363.77 L984.65,363.71 L985.55,363.64 L986.46,363.58 L987.36,363.51 L988.26,363.44 L989.16,363.37 L990.07,363.30 L990.97,363.22 L991.87,363.15 L992.77,363.07 L993.68,363.00 L994.58,362.92 L995.48,362.84 L996.38,362.76 L997.29,362.69 L998.19,362.61 L999.09,362.53 L999.99,362.45 L1000.89,362.37 L1001.80,362.29 L1002.70,362.22 L1003.60,362.14 L1004.50,362.06 L1005.41,361.98 L1006.31,361.91 L1007.21,361.83 L1008.11,361.76 L1009.02,361.69 L1009.92,361.61 L1010.82,361.54 L1011.72,361.47 L1012.63,361.41 L1013.53,361.34 L1014.43,361.27 L1015.33,361.21 L1016.24,361.14 L1017.14,361.07 L1018.04,361.00 L1018.94,360.92 L1019.84,360.85 L1020.75,360.77 L1021.65,360.70 L1022.55,360.62 L1023.45,360.54 L1024.36,360.46 L1025.26,360.38 L1026.16,360.30 L1027.06,360.21 L1027.97,360.13 L1028.87,360.05 L1029.77,359.96 L1030.67,359.88 L1031.58,359.79 L1032.48,359.71 L1033.38,359.62 L1034.28,359.54 L1035.18,359.45 L1036.09,359.36 L1036.99,359.28 L1037.89,359.19 L1038.79,359.10 L1039.70,359.02 L1040.60,358.93 L1041.50,358.85 L1042.40,358.76 L1043.31,358.67 L1044.21,358.59 L1045.11,358.50 L1046.01,358.42 L1046.92,358.34 L1047.82,358.25 L1048.72,358.17 L1049.62,358.09 L1050.52,358.01 L1051.43,357.93 L1052.33,357.85 L1053.23,357.77 L1054.13,357.69 L1055.04,357.62 L1055.94,357.54 L1056.84,357.47 L1057.74,357.40 L1058.65,357.32 L1059.55,357.26 L1060.45,357.19 L1061.35,357.12 L1062.26,357.05 L1063.16,356.99 L1064.06,356.93 L1064.96,356.87 L1065.86,356.81 L1066.77,356.75 L1067.67,356.70 L1068.57,356.65 L1069.47,356.60 L1070.38,356.55 L1071.28,356.50 L1072.18,356.46 L1073.08,356.42 L1073.99,356.38 L1074.89,356.34 L1075.79,356.30 L1076.69,356.26 L1077.60,356.22 L1078.50,356.18 L1079.40,356.14 L1080.30,356.10 L1081.21,356.07 L1082.11,356.03 L1083.01,355.99 L1083.91,355.95 L1084.81,355.91 L1085.72,355.88 L1086.62,355.84 L1087.52,355.80 L1088.42,355.76 L1089.33,355.73 L1090.23,355.69 L1091.13,355.66 L1092.03,355.62 L1092.94,355.59 L1093.84,355.55 L1094.74,355.52 L1095.64,355.48 L1096.55,355.45 L1097.45,355.42 L1098.35,355.38 L1099.25,355.35 L1100.15,355.32 L1101.06,355.29 L1101.96,355.26 L1102.86,355.23 L1103.76,355.20 L1104.67,355.17 L1105.57,355.14 L1106.47,355.11 L1107.37,355.08 L1108.28,355.06 L1109.18,355.03 L1110.08,355.01 L1110.98,354.98 L1111.89,354.96 L1112.79,354.93 L1113.69,354.91 L1114.59,354.89 L1115.49,354.87 L1116.40,354.85 L1117.30,354.83 L1118.20,354.81 L1119.10,354.79 L1120.01,354.77 L1120.91,354.75 L1121.81,354.74 L1122.71,354.72 L1123.62,354.71 L1124.52,354.70 L1125.42,354.68 L1126.32,354.67 L1127.23,354.66 L1128.13,354.65 L1129.03,354.64 L1129.93,354.64 L1130.83,354.63 L1131.74,354.63 L1132.64,354.62 L1133.54,354.62" fill="none" stroke="#17c0c0" stroke-width="5" stroke-linejoin="round" stroke-linecap="square" clip-path="url(#cb)"/>
<path d="M773.50,364.90 L774.40,364.57 L775.30,363.84 L776.21,362.86 L777.11,361.72 L778.01,360.19 L778.91,358.08 L779.82,355.61 L780.72,352.98 L781.62,350.14 L782.52,346.95 L783.43,343.49 L784.33,339.83 L785.23,336.05 L786.13,332.23 L787.04,328.46 L787.94,324.78 L788.84,321.03 L789.74,317.20 L790.64,313.30 L791.55,309.37 L792.45,305.44 L793.35,301.53 L794.25,297.67 L795.16,293.90 L796.06,290.24 L796.96,286.71 L797.86,283.31 L798.77,279.91 L799.67,276.57 L800.57,273.32 L801.47,270.23 L802.38,267.33 L803.28,264.67 L804.18,262.22 L805.08,259.86 L805.98,257.60 L806.89,255.49 L807.79,253.57 L808.69,251.89 L809.59,250.47 L810.50,249.28 L811.40,248.24 L812.30,247.34 L813.20,246.56 L814.11,245.77 L815.01,245.17 L815.91,245.14 L816.81,245.70 L817.72,246.49 L818.62,247.27 L819.52,248.19 L820.42,249.23 L821.33,250.36 L822.23,251.60 L823.13,252.96 L824.03,254.45 L824.93,256.03 L825.84,257.68 L826.74,259.40 L827.64,261.15 L828.54,263.02 L829.45,265.03 L830.35,267.12 L831.25,269.24 L832.15,271.33 L833.06,273.36 L833.96,275.39 L834.86,277.43 L835.76,279.47 L836.67,281.52 L837.57,283.56 L838.47,285.60 L839.37,287.62 L840.27,289.63 L841.18,291.63 L842.08,293.60 L842.98,295.55 L843.88,297.46 L844.79,299.35 L845.69,301.23 L846.59,303.11 L847.49,304.99 L848.40,306.87 L849.30,308.72 L850.20,310.56 L851.10,312.37 L852.01,314.15 L852.91,315.89 L853.81,317.58 L854.71,319.22 L855.61,320.81 L856.52,322.34 L857.42,323.80 L858.32,325.23 L859.22,326.64 L860.13,328.01 L861.03,329.36 L861.93,330.67 L862.83,331.95 L863.74,333.19 L864.64,334.38 L865.54,335.54 L866.44,336.65 L867.35,337.71 L868.25,338.73 L869.15,339.70 L870.05,340.65 L870.95,341.56 L871.86,342.45 L872.76,343.31 L873.66,344.15 L874.56,344.96 L875.47,345.74 L876.37,346.50 L877.27,347.23 L878.17,347.93 L879.08,348.61 L879.98,349.27 L880.88,349.92 L881.78,350.55 L882.69,351.17 L883.59,351.78 L884.49,352.38 L885.39,352.96 L886.30,353.52 L887.20,354.06 L888.10,354.58 L889.00,355.08 L889.90,355.56 L890.81,356.02 L891.71,356.45 L892.61,356.86 L893.51,357.24 L894.42,357.62 L895.32,357.98 L896.22,358.33 L897.12,358.67 L898.03,359.00 L898.93,359.32 L899.83,359.62 L900.73,359.91 L901.64,360.19 L902.54,360.45 L903.44,360.70 L904.34,360.93 L905.24,361.15 L906.15,361.35 L907.05,361.54 L907.95,361.73 L908.85,361.91 L909.76,362.09 L910.66,362.27 L911.56,362.44 L912.46,362.60 L913.37,362.76 L914.27,362.92 L915.17,363.06 L916.07,363.20 L916.98,363.34 L917.88,363.47 L918.78,363.58 L919.68,363.70 L920.58,363.80 L921.49,363.89 L922.39,363.98 L923.29,364.05 L924.19,364.11 L925.10,364.17 L926.00,364.23 L926.90,364.29 L927.80,364.35 L928.71,364.40 L929.61,364.46 L930.51,364.51 L931.41,364.56 L932.32,364.61 L933.22,364.65 L934.12,364.69 L935.02,364.73 L935.92,364.77 L936.83,364.80 L937.73,364.83 L938.63,364.85 L939.53,364.87 L940.44,364.88 L941.34,364.89 L942.24,364.90 L943.14,364.90 L944.05,364.90 L944.95,364.89 L945.85,364.89 L946.75,364.88 L947.66,364.87 L948.56,364.86 L949.46,364.84 L950.36,364.83 L951.27,364.81 L952.17,364.79 L953.07,364.77 L953.97,364.76 L954.87,364.74 L955.78,364.71 L956.68,364.69 L957.58,364.67 L958.48,364.65 L959.39,364.63 L960.29,364.61 L961.19,364.59 L962.09,364.57 L963.00,364.55 L963.90,364.53 L964.80,364.51 L965.70,364.49 L966.61,364.47 L967.51,364.45 L968.41,364.43 L969.31,364.41 L970.21,364.40 L971.12,364.38 L972.02,364.36 L972.92,364.34 L973.82,364.32 L974.73,364.30 L975.63,364.28 L976.53,364.26 L977.43,364.24 L978.34,364.22 L979.24,364.20 L980.14,364.18 L981.04,364.16 L981.95,364.14 L982.85,364.12 L983.75,364.10 L984.65,364.08 L985.55,364.06 L986.46,364.04 L987.36,364.02 L988.26,364.00 L989.16,363.98 L990.07,363.96 L990.97,363.93 L991.87,363.91 L992.77,363.89 L993.68,363.87 L994.58,363.84 L995.48,363.82 L996.38,363.80 L997.29,363.78 L998.19,363.75 L999.09,363.73 L999.99,363.70 L1000.89,363.68 L1001.80,363.66 L1002.70,363.63 L1003.60,363.61 L1004.50,363.58 L1005.41,363.56 L1006.31,363.53 L1007.21,363.51 L1008.11,363.48 L1009.02,363.45 L1009.92,363.43 L1010.82,363.40 L1011.72,363.37 L1012.63,363.35 L1013.53,363.32 L1014.43,363.29 L1015.33,363.26 L1016.24,363.23 L1017.14,363.20 L1018.04,363.17 L1018.94,363.14 L1019.84,363.10 L1020.75,363.07 L1021.65,363.04 L1022.55,363.00 L1023.45,362.97 L1024.36,362.93 L1025.26,362.89 L1026.16,362.86 L1027.06,362.82 L1027.97,362.78 L1028.87,362.74 L1029.77,362.70 L1030.67,362.66 L1031.58,362.62 L1032.48,362.58 L1033.38,362.54 L1034.28,362.50 L1035.18,362.46 L1036.09,362.42 L1036.99,362.37 L1037.89,362.33 L1038.79,362.29 L1039.70,362.25 L1040.60,362.20 L1041.50,362.16 L1042.40,362.12 L1043.31,362.08 L1044.21,362.03 L1045.11,361.99 L1046.01,361.95 L1046.92,361.90 L1047.82,361.86 L1048.72,361.82 L1049.62,361.77 L1050.52,361.73 L1051.43,361.69 L1052.33,361.64 L1053.23,361.60 L1054.13,361.56 L1055.04,361.52 L1055.94,361.48 L1056.84,361.44 L1057.74,361.39 L1058.65,361.35 L1059.55,361.31 L1060.45,361.27 L1061.35,361.23 L1062.26,361.19 L1063.16,361.15 L1064.06,361.12 L1064.96,361.08 L1065.86,361.04 L1066.77,361.00 L1067.67,360.97 L1068.57,360.93 L1069.47,360.90 L1070.38,360.86 L1071.28,360.83 L1072.18,360.80 L1073.08,360.76 L1073.99,360.73 L1074.89,360.70 L1075.79,360.67 L1076.69,360.64 L1077.60,360.61 L1078.50,360.58 L1079.40,360.54 L1080.30,360.51 L1081.21,360.48 L1082.11,360.45 L1083.01,360.42 L1083.91,360.39 L1084.81,360.36 L1085.72,360.33 L1086.62,360.30 L1087.52,360.27 L1088.42,360.24 L1089.33,360.21 L1090.23,360.18 L1091.13,360.15 L1092.03,360.12 L1092.94,360.10 L1093.84,360.07 L1094.74,360.04 L1095.64,360.01 L1096.55,359.98 L1097.45,359.95 L1098.35,359.93 L1099.25,359.90 L1100.15,359.87 L1101.06,359.84 L1101.96,359.82 L1102.86,359.79 L1103.76,359.76 L1104.67,359.73 L1105.57,359.71 L1106.47,359.68 L1107.37,359.65 L1108.28,359.63 L1109.18,359.60 L1110.08,359.58 L1110.98,359.55 L1111.89,359.52 L1112.79,359.50 L1113.69,359.47 L1114.59,359.45 L1115.49,359.42 L1116.40,359.40 L1117.30,359.38 L1118.20,359.35 L1119.10,359.33 L1120.01,359.30 L1120.91,359.28 L1121.81,359.26 L1122.71,359.23 L1123.62,359.21 L1124.52,359.19 L1125.42,359.16 L1126.32,359.14 L1127.23,359.12 L1128.13,359.10 L1129.03,359.07 L1129.93,359.05 L1130.83,359.03 L1131.74,359.01 L1132.64,358.99 L1133.54,358.97" fill="none" stroke="#b51a1c" stroke-width="5" stroke-linejoin="round" stroke-linecap="square" clip-path="url(#cb)"/>
<line x1="773.10" x2="783.10" y1="364.90" y2="364.90" stroke="#1a1a1a" stroke-width="1.15"/>
<line x1="773.10" x2="783.10" y1="345.12" y2="345.12" stroke="#1a1a1a" stroke-width="1.15"/>
<line x1="773.10" x2="783.10" y1="325.35" y2="325.35" stroke="#1a1a1a" stroke-width="1.15"/>
<line x1="773.10" x2="783.10" y1="305.57" y2="305.57" stroke="#1a1a1a" stroke-width="1.15"/>
<line x1="773.10" x2="783.10" y1="285.80" y2="285.80" stroke="#1a1a1a" stroke-width="1.15"/>
<line x1="773.10" x2="783.10" y1="266.02" y2="266.02" stroke="#1a1a1a" stroke-width="1.15"/>
<line x1="773.10" x2="783.10" y1="246.25" y2="246.25" stroke="#1a1a1a" stroke-width="1.15"/>
<line x1="785.50" x2="785.50" y1="367.10" y2="360.60" stroke="#1a1a1a" stroke-width="1.15"/>
<line x1="797.50" x2="797.50" y1="367.10" y2="360.60" stroke="#1a1a1a" stroke-width="1.15"/>
<line x1="809.50" x2="809.50" y1="367.10" y2="360.60" stroke="#1a1a1a" stroke-width="1.15"/>
<line x1="821.51" x2="821.51" y1="367.10" y2="360.60" stroke="#1a1a1a" stroke-width="1.15"/>
<line x1="833.51" x2="833.51" y1="367.10" y2="356.10" stroke="#1a1a1a" stroke-width="1.15"/>
<line x1="845.51" x2="845.51" y1="367.10" y2="360.60" stroke="#1a1a1a" stroke-width="1.15"/>
<line x1="857.51" x2="857.51" y1="367.10" y2="360.60" stroke="#1a1a1a" stroke-width="1.15"/>
<line x1="869.51" x2="869.51" y1="367.10" y2="360.60" stroke="#1a1a1a" stroke-width="1.15"/>
<line x1="881.51" x2="881.51" y1="367.10" y2="360.60" stroke="#1a1a1a" stroke-width="1.15"/>
<line x1="893.51" x2="893.51" y1="367.10" y2="356.10" stroke="#1a1a1a" stroke-width="1.15"/>
<line x1="905.52" x2="905.52" y1="367.10" y2="360.60" stroke="#1a1a1a" stroke-width="1.15"/>
<line x1="917.52" x2="917.52" y1="367.10" y2="360.60" stroke="#1a1a1a" stroke-width="1.15"/>
<line x1="929.52" x2="929.52" y1="367.10" y2="360.60" stroke="#1a1a1a" stroke-width="1.15"/>
<line x1="941.52" x2="941.52" y1="367.10" y2="360.60" stroke="#1a1a1a" stroke-width="1.15"/>
<line x1="953.52" x2="953.52" y1="367.10" y2="356.10" stroke="#1a1a1a" stroke-width="1.15"/>
<line x1="965.52" x2="965.52" y1="367.10" y2="360.60" stroke="#1a1a1a" stroke-width="1.15"/>
<line x1="977.52" x2="977.52" y1="367.10" y2="360.60" stroke="#1a1a1a" stroke-width="1.15"/>
<line x1="989.53" x2="989.53" y1="367.10" y2="360.60" stroke="#1a1a1a" stroke-width="1.15"/>
<line x1="1001.53" x2="1001.53" y1="367.10" y2="360.60" stroke="#1a1a1a" stroke-width="1.15"/>
<line x1="1013.53" x2="1013.53" y1="367.10" y2="356.10" stroke="#1a1a1a" stroke-width="1.15"/>
<line x1="1025.53" x2="1025.53" y1="367.10" y2="360.60" stroke="#1a1a1a" stroke-width="1.15"/>
<line x1="1037.53" x2="1037.53" y1="367.10" y2="360.60" stroke="#1a1a1a" stroke-width="1.15"/>
<line x1="1049.53" x2="1049.53" y1="367.10" y2="360.60" stroke="#1a1a1a" stroke-width="1.15"/>
<line x1="1061.53" x2="1061.53" y1="367.10" y2="360.60" stroke="#1a1a1a" stroke-width="1.15"/>
<line x1="1073.53" x2="1073.53" y1="367.10" y2="356.10" stroke="#1a1a1a" stroke-width="1.15"/>
<line x1="1085.54" x2="1085.54" y1="367.10" y2="360.60" stroke="#1a1a1a" stroke-width="1.15"/>
<line x1="1097.54" x2="1097.54" y1="367.10" y2="360.60" stroke="#1a1a1a" stroke-width="1.15"/>
<line x1="1109.54" x2="1109.54" y1="367.10" y2="360.60" stroke="#1a1a1a" stroke-width="1.15"/>
<line x1="1121.54" x2="1121.54" y1="367.10" y2="360.60" stroke="#1a1a1a" stroke-width="1.15"/>
<line x1="1133.54" x2="1133.54" y1="367.10" y2="356.10" stroke="#1a1a1a" stroke-width="1.15"/>
<rect x="773.1" y="244.3" width="368.1" height="122.80000000000001" fill="none" stroke="#303030" stroke-width="1.5"/>
<text transform="translate(669.32,295.80) scale(0.968,1)" font-size="43">0.002</text>
<text transform="translate(668.07,336.20) scale(0.968,1)" font-size="43">0.001</text>
<text transform="translate(742.28,378.30) scale(0.968,1)" font-size="43">0</text>
<text transform="translate(762.49,416.10) scale(0.968,1)" font-size="43">0</text>
<text transform="translate(821.90,416.10) scale(0.968,1)" font-size="43">1</text>
<text transform="translate(882.63,416.10) scale(0.968,1)" font-size="43">2</text>
<text transform="translate(942.39,416.10) scale(0.968,1)" font-size="43">3</text>
<text transform="translate(1002.52,416.10) scale(0.968,1)" font-size="43">4</text>
<text transform="translate(1062.17,416.10) scale(0.968,1)" font-size="43">5</text>
<text transform="translate(1122.29,416.10) scale(0.968,1)" font-size="43">6</text>
<line x1="1299.50" x2="1659.40" y1="133.50" y2="133.50" stroke="#dadada" stroke-width="1.15"/>
<line x1="1299.50" x2="1659.40" y1="177.72" y2="177.72" stroke="#dadada" stroke-width="1.15"/>
<line x1="1299.50" x2="1659.40" y1="280.40" y2="280.40" stroke="#dadada" stroke-width="1.15"/>
<line x1="1299.50" x2="1659.40" y1="324.62" y2="324.62" stroke="#dadada" stroke-width="1.15"/>
<path d="M1304.81,350.70 L1310.17,281.50 L1315.53,252.00 L1320.88,238.00 L1326.24,231.00 L1331.60,226.60 L1336.96,224.00 L1342.32,222.59 L1347.67,221.94 L1353.03,221.90 L1358.39,222.32 L1363.75,223.08 L1369.11,224.06 L1374.46,225.22 L1379.82,226.49 L1385.18,227.85 L1390.54,229.27 L1395.90,230.73 L1401.25,232.20 L1406.61,233.69 L1411.97,235.17 L1417.33,236.65 L1422.69,238.11 L1428.04,239.56 L1433.40,240.99 L1438.76,242.39 L1444.12,243.78 L1449.48,245.14 L1454.83,246.48 L1460.19,247.79 L1465.55,249.08 L1470.91,250.34 L1476.27,251.58 L1481.62,252.80 L1486.98,253.99 L1492.34,255.16 L1497.70,256.31 L1503.06,257.44 L1508.41,258.54 L1513.77,259.63 L1519.13,260.69 L1524.49,261.74 L1529.85,262.77 L1535.20,263.78 L1540.56,264.78 L1545.92,265.75 L1551.28,266.72 L1556.64,267.66 L1561.99,268.60 L1567.35,269.51 L1572.71,270.42 L1578.07,271.31 L1583.43,272.19 L1588.78,273.06 L1594.14,273.91 L1599.50,274.75 L1604.86,275.59 L1610.22,276.41 L1615.57,277.22 L1620.93,278.02 L1626.29,278.81 L1631.65,279.60 L1637.01,280.37 L1642.36,281.14 L1647.72,281.90 L1653.08,282.65" fill="none" stroke="#455a96" stroke-width="5" stroke-linejoin="round" stroke-linecap="round"/>
<path d="M1299.45,138.00 L1304.81,111.00 L1310.17,106.56 L1315.53,105.62 L1320.88,106.87 L1326.24,109.11 L1331.60,111.70 L1336.96,114.46 L1342.32,117.24 L1347.67,119.97 L1353.03,122.63 L1358.39,125.21 L1363.75,127.71 L1369.11,130.12 L1374.46,132.47 L1379.82,134.75 L1385.18,136.96 L1390.54,139.12 L1395.90,141.23 L1401.25,143.29 L1406.61,145.31 L1411.97,147.29 L1417.33,149.23 L1422.69,151.14 L1428.04,153.01 L1433.40,154.86 L1438.76,156.67 L1444.12,158.45 L1449.48,160.21 L1454.83,161.94 L1460.19,163.64 L1465.55,165.31 L1470.91,166.96 L1476.27,168.58 L1481.62,170.18 L1486.98,171.75 L1492.34,173.30 L1497.70,174.82 L1503.06,176.32 L1508.41,177.80 L1513.77,179.24 L1519.13,180.67 L1524.49,182.07 L1529.85,183.44 L1535.20,184.79 L1540.56,186.12 L1545.92,187.42 L1551.28,188.70 L1556.64,189.96 L1561.99,191.19 L1567.35,192.39 L1572.71,193.57 L1578.07,194.73 L1583.43,195.86 L1588.78,196.97 L1594.14,198.06 L1599.50,199.12 L1604.86,200.16 L1610.22,201.17 L1615.57,202.16 L1620.93,203.13 L1626.29,204.07 L1631.65,204.99 L1637.01,205.89 L1642.36,206.76 L1647.72,207.61 L1653.08,208.44" fill="none" stroke="#7a94dc" stroke-width="5" stroke-linejoin="round" stroke-linecap="round" clip-path="url(#cc)"/>
<path d="M1310.17,84.08 L1315.53,90.70 L1320.88,96.35 L1326.24,101.53 L1331.60,106.42 L1336.96,111.10 L1342.32,115.61 L1347.67,119.94 L1353.03,124.11 L1358.39,128.10 L1363.75,131.93 L1369.11,135.60 L1374.46,139.10 L1379.82,142.46 L1385.18,145.66 L1390.54,148.72 L1395.90,151.64 L1401.25,154.44 L1406.61,157.11 L1411.97,159.67 L1417.33,162.11 L1422.69,164.45 L1428.04,166.70 L1433.40,168.85 L1438.76,170.92 L1444.12,172.91 L1449.48,174.82 L1454.83,176.67 L1460.19,178.44 L1465.55,180.16 L1470.91,181.82 L1476.27,183.43 L1481.62,184.98 L1486.98,186.49 L1492.34,187.96 L1497.70,189.39 L1503.06,190.78 L1508.41,192.13 L1513.77,193.46 L1519.13,194.75 L1524.49,196.02 L1529.85,197.27 L1535.20,198.49 L1540.56,199.69 L1545.92,200.87 L1551.28,202.04 L1556.64,203.19 L1561.99,204.32 L1567.35,205.45 L1572.71,206.56 L1578.07,207.66 L1583.43,208.75 L1588.78,209.84 L1594.14,210.92 L1599.50,211.99 L1604.86,213.06 L1610.22,214.13 L1615.57,215.19 L1620.93,216.26 L1626.29,217.32 L1631.65,218.38 L1637.01,219.44 L1642.36,220.50 L1647.72,221.56 L1653.08,222.63" fill="none" stroke="#e0a092" stroke-width="5" stroke-linejoin="round" stroke-linecap="round"/>
<line x1="1299.50" x2="1309.00" y1="89.28" y2="89.28" stroke="#1a1a1a" stroke-width="1.15"/>
<line x1="1299.50" x2="1314.50" y1="133.50" y2="133.50" stroke="#1a1a1a" stroke-width="1.15"/>
<line x1="1299.50" x2="1309.00" y1="140.22" y2="140.22" stroke="#1a1a1a" stroke-width="1.15"/>
<line x1="1299.50" x2="1309.00" y1="147.74" y2="147.74" stroke="#1a1a1a" stroke-width="1.15"/>
<line x1="1299.50" x2="1309.00" y1="156.26" y2="156.26" stroke="#1a1a1a" stroke-width="1.15"/>
<line x1="1299.50" x2="1309.00" y1="166.09" y2="166.09" stroke="#1a1a1a" stroke-width="1.15"/>
<line x1="1299.50" x2="1314.50" y1="177.72" y2="177.72" stroke="#1a1a1a" stroke-width="1.15"/>
<line x1="1299.50" x2="1309.00" y1="191.96" y2="191.96" stroke="#1a1a1a" stroke-width="1.15"/>
<line x1="1299.50" x2="1309.00" y1="210.31" y2="210.31" stroke="#1a1a1a" stroke-width="1.15"/>
<line x1="1299.50" x2="1309.00" y1="236.18" y2="236.18" stroke="#1a1a1a" stroke-width="1.15"/>
<line x1="1299.50" x2="1314.50" y1="280.40" y2="280.40" stroke="#1a1a1a" stroke-width="1.15"/>
<line x1="1299.50" x2="1309.00" y1="287.12" y2="287.12" stroke="#1a1a1a" stroke-width="1.15"/>
<line x1="1299.50" x2="1309.00" y1="294.64" y2="294.64" stroke="#1a1a1a" stroke-width="1.15"/>
<line x1="1299.50" x2="1309.00" y1="303.16" y2="303.16" stroke="#1a1a1a" stroke-width="1.15"/>
<line x1="1299.50" x2="1309.00" y1="312.99" y2="312.99" stroke="#1a1a1a" stroke-width="1.15"/>
<line x1="1299.50" x2="1314.50" y1="324.62" y2="324.62" stroke="#1a1a1a" stroke-width="1.15"/>
<line x1="1299.50" x2="1309.00" y1="338.86" y2="338.86" stroke="#1a1a1a" stroke-width="1.15"/>
<line x1="1299.50" x2="1309.00" y1="357.21" y2="357.21" stroke="#1a1a1a" stroke-width="1.15"/>
<line x1="1331.60" x2="1331.60" y1="367.10" y2="357.60" stroke="#1a1a1a" stroke-width="1.15"/>
<line x1="1358.39" x2="1358.39" y1="367.10" y2="357.60" stroke="#1a1a1a" stroke-width="1.15"/>
<line x1="1385.18" x2="1385.18" y1="367.10" y2="357.60" stroke="#1a1a1a" stroke-width="1.15"/>
<line x1="1411.97" x2="1411.97" y1="367.10" y2="357.60" stroke="#1a1a1a" stroke-width="1.15"/>
<line x1="1438.76" x2="1438.76" y1="367.10" y2="357.60" stroke="#1a1a1a" stroke-width="1.15"/>
<line x1="1465.55" x2="1465.55" y1="367.10" y2="357.60" stroke="#1a1a1a" stroke-width="1.15"/>
<line x1="1492.34" x2="1492.34" y1="367.10" y2="357.60" stroke="#1a1a1a" stroke-width="1.15"/>
<line x1="1519.13" x2="1519.13" y1="367.10" y2="357.60" stroke="#1a1a1a" stroke-width="1.15"/>
<line x1="1545.92" x2="1545.92" y1="367.10" y2="357.60" stroke="#1a1a1a" stroke-width="1.15"/>
<line x1="1572.71" x2="1572.71" y1="367.10" y2="357.60" stroke="#1a1a1a" stroke-width="1.15"/>
<line x1="1599.50" x2="1599.50" y1="367.10" y2="357.60" stroke="#1a1a1a" stroke-width="1.15"/>
<line x1="1626.29" x2="1626.29" y1="367.10" y2="357.60" stroke="#1a1a1a" stroke-width="1.15"/>
<line x1="1653.08" x2="1653.08" y1="367.10" y2="357.60" stroke="#1a1a1a" stroke-width="1.15"/>
<path d="M1299.5,79.2 H1659.4" fill="none" stroke="#6a6a6a" stroke-width="1"/>
<path d="M1659.4,79.2 V367.1" fill="none" stroke="#3a3a3a" stroke-width="1"/>
<path d="M1299.5,78.7 V367.1 H1659.9" fill="none" stroke="#303030" stroke-width="1.5"/>
<text transform="translate(1213.97,146.50) scale(0.961,1)" font-size="44.3">0.01</text>
<text transform="translate(1192.22,190.40) scale(0.961,1)" font-size="44.3">0.005</text>
<text transform="translate(1192.28,293.10) scale(0.961,1)" font-size="44.3">0.001</text>
<text transform="translate(1171.08,336.70) scale(0.961,1)" font-size="44.3">0.0005</text>
<text transform="translate(1309.96,417.40) scale(0.961,1)" font-size="44.3">10</text>
<text transform="translate(1417.96,417.40) scale(0.961,1)" font-size="44.3">30</text>
<text transform="translate(1525.00,417.40) scale(0.961,1)" font-size="44.3">50</text>
<text transform="translate(1631.92,417.40) scale(0.961,1)" font-size="44.3">70</text>
<text><tspan x="-3.05" y="36.58" font-size="53.44" textLength="18.15" lengthAdjust="spacingAndGlyphs">(</tspan><tspan x="15.59" y="36.35" font-size="49.26" textLength="28.57" lengthAdjust="spacingAndGlyphs" font-weight="bold">a</tspan><tspan x="44.30" y="36.58" font-size="53.44" textLength="18.83" lengthAdjust="spacingAndGlyphs">)</tspan></text>
<text><tspan x="646.23" y="36.58" font-size="53.44" textLength="18.28" lengthAdjust="spacingAndGlyphs">(</tspan><tspan x="666.48" y="36.01" font-size="48.71" textLength="30.48" lengthAdjust="spacingAndGlyphs" font-weight="bold">b</tspan><tspan x="697.68" y="36.58" font-size="53.44" textLength="17.93" lengthAdjust="spacingAndGlyphs">)</tspan></text>
<text><tspan x="1179.30" y="36.58" font-size="53.44" textLength="17.76" lengthAdjust="spacingAndGlyphs">(</tspan><tspan x="1197.56" y="36.11" font-size="48.75" textLength="25.83" lengthAdjust="spacingAndGlyphs" font-weight="bold">c</tspan><tspan x="1224.38" y="36.58" font-size="53.44" textLength="17.93" lengthAdjust="spacingAndGlyphs">)</tspan></text>
<text><tspan x="275.74" y="494.20" font-size="51.00" textLength="152.71" lengthAdjust="spacingAndGlyphs">System</tspan> <tspan x="443.37" y="494.20" font-size="51.00" textLength="76.56" lengthAdjust="spacingAndGlyphs">size</tspan> <tspan x="538.56" y="494.20" font-size="51.00" textLength="35.79" lengthAdjust="spacingAndGlyphs" font-style="italic">N</tspan></text>
<text><tspan x="737.38" y="494.20" font-size="51.00" textLength="229.14" lengthAdjust="spacingAndGlyphs">Interaction</tspan> <tspan x="984.47" y="494.20" font-size="51.00" textLength="116.23" lengthAdjust="spacingAndGlyphs">range</tspan> <tspan x="1115.83" y="495.40" font-size="51.00" textLength="31.61" lengthAdjust="spacingAndGlyphs" font-style="italic">α</tspan></text>
<text><tspan x="1328.56" y="494.20" font-size="51.00" textLength="151.89" lengthAdjust="spacingAndGlyphs">System</tspan> <tspan x="1496.28" y="494.20" font-size="51.00" textLength="76.14" lengthAdjust="spacingAndGlyphs">size</tspan> <tspan x="1591.06" y="494.20" font-size="51.00" textLength="35.51" lengthAdjust="spacingAndGlyphs" font-style="italic">N</tspan></text>
<g transform="translate(78.5,340.5) rotate(-90)">
<text><tspan x="-1.73" y="0.00" font-size="51.00" textLength="187.91" lengthAdjust="spacingAndGlyphs">Infidelity</tspan> <tspan x="199.31" y="-1.16" font-size="41.62" textLength="42.29" lengthAdjust="spacingAndGlyphs" style="font-family:'DejaVu Math TeX Gyre','DejaVu Serif',serif">ℐ</tspan></text>
</g>
<rect x="250.8" y="555.0" width="29.1" height="28.0" fill="#76964a"/>
<text transform="translate(290.04,579.80) scale(1.0070,1.0000)" font-size="42.5">Nearest-neighbors</text>
<text transform="translate(751.26,582.10) scale(1.0493,1.0015)" font-size="51" font-style="italic">N</text>
<rect x="815.9" y="555.5" width="27.6" height="27.5" fill="#0a6868"/>
<text transform="translate(853.76,580.60) scale(0.944,1)" font-size="43">10</text>
<rect x="921.1" y="555.5" width="27.6" height="27.5" fill="#17c0c0"/>
<text transform="translate(959.51,580.60) scale(0.944,1)" font-size="43">30</text>
<rect x="1027.4" y="555.5" width="27.6" height="27.5" fill="#b51a1c"/>
<text transform="translate(1065.75,580.60) scale(0.944,1)" font-size="43">60</text>
<rect x="1222.3" y="555.1" width="27.7" height="27.7" fill="#455a96"/>
<text transform="translate(1260.95,579.60) scale(1.0000,1.0000)" font-size="42.5">Ring</text>
<rect x="1367.5" y="555.1" width="27.7" height="27.7" fill="#e0a092"/>
<text transform="translate(1406.64,579.60) scale(1.0114,1.0000)" font-size="42.5">Ladder</text>
<rect x="1553.0" y="555.1" width="27.7" height="27.7" fill="#7a94dc"/>
<text transform="translate(1592.11,579.60) scale(0.9896,1.0000)" font-size="42.5">ANNNI</text>
</svg>
</body></html>
